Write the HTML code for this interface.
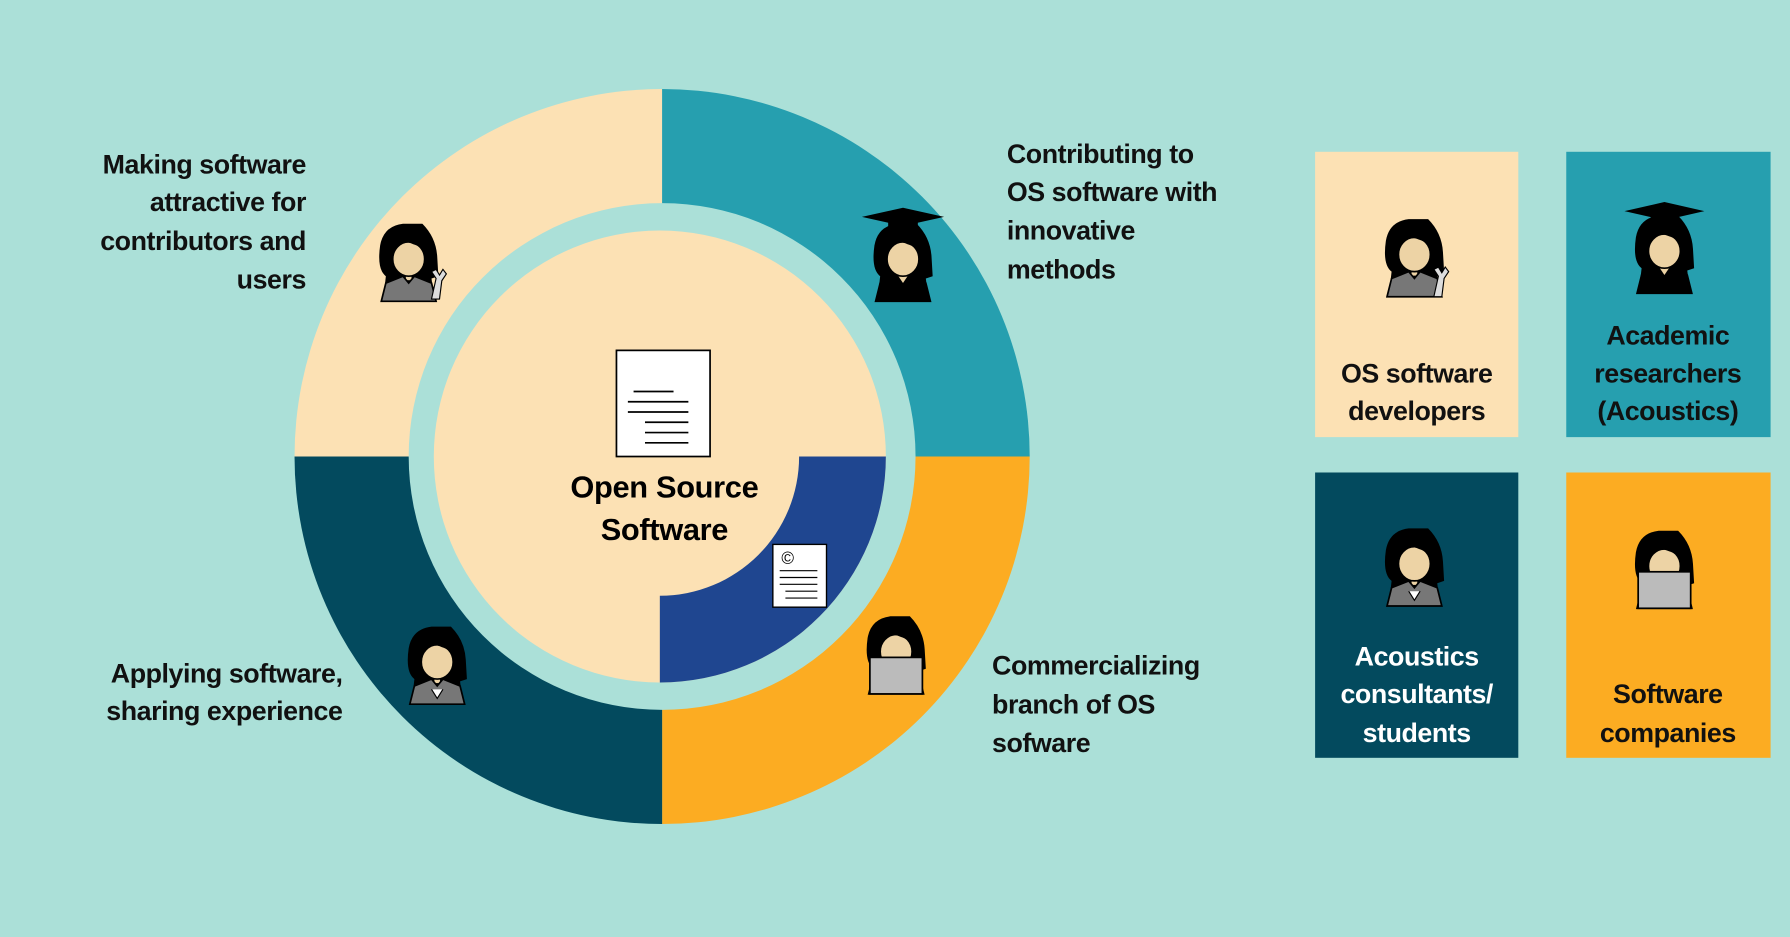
<!DOCTYPE html>
<html><head><meta charset="utf-8"><style>html,body{margin:0;padding:0;background:#ABE0D8}svg{display:block}text{font-family:"Liberation Sans",sans-serif;font-weight:bold}</style></head>
<body>
<svg width="1790" height="937" viewBox="0 0 1568 821" preserveAspectRatio="none" xmlns="http://www.w3.org/2000/svg">
<defs>
<g id="p">
<path d="M-22,30 L-20,12 Q-28,6 -25,-15 Q-22,-32 -5,-34 L12,-34 Q24,-22 25,-5 L26,12 L20,14 L22,30 Z" fill="#000"/>
<rect x="-3" y="8" width="6" height="8" fill="#EDD3A5" stroke="#000" stroke-width="1"/>
<path d="M-24,34 L-20,18 L-5,12 L0,18 L5,12 L20,18 L24,34 Z" fill="#777" stroke="#000" stroke-width="1.5"/>
<ellipse cx="0" cy="-3" rx="14" ry="15" fill="#EDD3A5" stroke="#000" stroke-width="1.5"/>
<path d="M-14,-8 Q-10,-22 4,-16 Q12,-14 16,-4 L16,-20 Q6,-30 -10,-24 Z" fill="#000"/>
</g>
<g id="g">
<path d="M-22,30 L-20,12 Q-28,6 -25,-15 Q-22,-32 -5,-34 L12,-34 Q24,-22 25,-5 L26,12 L20,14 L22,30 Z" fill="#000"/>
<path d="M-24,34 L-20,18 L-5,12 L0,18 L5,12 L20,18 L24,34 Z" fill="#000" stroke="#000" stroke-width="1.5"/>
<path d="M-4,12 L0,18 L4,12 Z" fill="#EDD3A5"/>
<ellipse cx="0" cy="-3" rx="14" ry="15" fill="#EDD3A5" stroke="#000" stroke-width="1.5"/>
<path d="M-14,-8 Q-10,-22 4,-16 Q12,-14 16,-4 L16,-20 Q6,-30 -10,-24 Z" fill="#000"/>
</g>
</defs>
<rect width="1568" height="821" fill="#ABE0D8"/>
<path d="M580,400 L580,78 A322,322 0 0 0 258,400 Z" fill="#FCE1B4"/>
<path d="M580,400 L580,78 A322,322 0 0 1 902,400 Z" fill="#269FAF"/>
<path d="M580,400 L902,400 A322,322 0 0 1 580,722 Z" fill="#FCAC22"/>
<path d="M580,400 L580,722 A322,322 0 0 1 258,400 Z" fill="#034A5E"/>
<circle cx="580" cy="400" r="222" fill="#ABE0D8"/>
<circle cx="578" cy="400" r="198" fill="#FCE1B4"/>
<path d="M578,400 L776,400 A198,198 0 0 1 578,598 L578,522 A122,122 0 0 0 700,400 Z" fill="#1F4690"/>
<rect x="540" y="307" width="82" height="93" fill="#fff" stroke="#000" stroke-width="1.5"/>
<g stroke="#000" stroke-width="1.5"><line x1="555" y1="343" x2="590" y2="343"/><line x1="550" y1="352" x2="603" y2="352"/><line x1="550" y1="361" x2="603" y2="361"/><line x1="565" y1="370" x2="603" y2="370"/><line x1="565" y1="379" x2="603" y2="379"/><line x1="565" y1="388" x2="603" y2="388"/></g>
<rect x="677" y="477" width="47" height="55" fill="#fff" stroke="#000" stroke-width="1.2"/>
<text x="690" y="494" font-size="15" text-anchor="middle" style="font-weight:normal">©</text>
<g stroke="#000" stroke-width="1"><line x1="683" y1="500" x2="716" y2="500"/><line x1="683" y1="506" x2="716" y2="506"/><line x1="683" y1="512" x2="716" y2="512"/><line x1="688" y1="518" x2="716" y2="518"/><line x1="688" y1="524" x2="716" y2="524"/></g>
<text x="582" y="436" font-size="27" text-anchor="middle" fill="#000" letter-spacing="-0.3">Open Source</text>
<text x="582" y="473" font-size="27" text-anchor="middle" fill="#000" letter-spacing="-0.3">Software</text>
<g font-size="23.5" fill="#111" letter-spacing="-0.4">
<g text-anchor="end"><text x="268" y="152">Making software</text><text x="268" y="185">attractive for</text><text x="268" y="219">contributors and</text><text x="268" y="253">users</text>
<text x="300" y="598">Applying software,</text><text x="300" y="631">sharing experience</text></g>
<text x="882" y="143">Contributing to</text><text x="882" y="176">OS software with</text><text x="882" y="210">innovative</text><text x="882" y="244">methods</text>
<text x="869" y="591">Commercializing</text><text x="869" y="625">branch of OS</text><text x="869" y="659">sofware</text>
</g>
<rect x="1152" y="133" width="178" height="250" fill="#FCE1B4"/>
<rect x="1372" y="133" width="179" height="250" fill="#269FAF"/>
<rect x="1152" y="414" width="178" height="250" fill="#034A5E"/>
<rect x="1372" y="414" width="179" height="250" fill="#FCAC22"/>
<g font-size="23.5" text-anchor="middle" letter-spacing="-0.4">
<text x="1241" y="335" fill="#111">OS software</text><text x="1241" y="368" fill="#111">developers</text>
<text x="1461" y="302" fill="#111">Academic</text><text x="1461" y="335" fill="#111">researchers</text><text x="1461" y="368" fill="#111">(Acoustics)</text>
<text x="1241" y="583" fill="#fff">Acoustics</text><text x="1241" y="616" fill="#fff">consultants/</text><text x="1241" y="650" fill="#fff">students</text>
<text x="1461" y="616" fill="#111">Software</text><text x="1461" y="650" fill="#111">companies</text>
</g>
<use href="#p" x="358" y="230"/>
<use href="#g" x="791" y="230"/>
<use href="#p" x="383" y="583"/>
<use href="#p" x="785" y="574"/>
<use href="#p" x="1239" y="226"/>
<use href="#g" x="1458" y="223"/>
<use href="#p" x="1239" y="497"/>
<use href="#p" x="1458" y="499"/>
<path d="M378,262 L382,244 L378,238 L382,236 L385,241 L388,236 L391,240 L387,246 L385,262 Z" fill="#ddd" stroke="#000" stroke-width="1"/>
<path d="M1256,260 L1260,242 L1256,236 L1260,234 L1263,239 L1266,234 L1269,238 L1265,244 L1263,260 Z" fill="#ddd" stroke="#000" stroke-width="1"/>
<path d="M755,190 L791,182 L827,190 L791,198 Z" fill="#000"/><rect x="778" y="190" width="26" height="10" fill="#000"/>
<path d="M1423,185 L1458,177 L1493,185 L1458,193 Z" fill="#000"/><rect x="1446" y="185" width="24" height="10" fill="#000"/>
<rect x="762" y="576" width="46" height="32" fill="#bbb" stroke="#000" stroke-width="1.5"/>
<rect x="1435" y="501" width="46" height="32" fill="#bbb" stroke="#000" stroke-width="1.5"/>
<path d="M378,604 L383,612 L388,604" fill="#fff" stroke="#000" stroke-width="1"/>
<path d="M1234,518 L1239,526 L1244,518" fill="#fff" stroke="#000" stroke-width="1"/>
</svg>
</body></html>
